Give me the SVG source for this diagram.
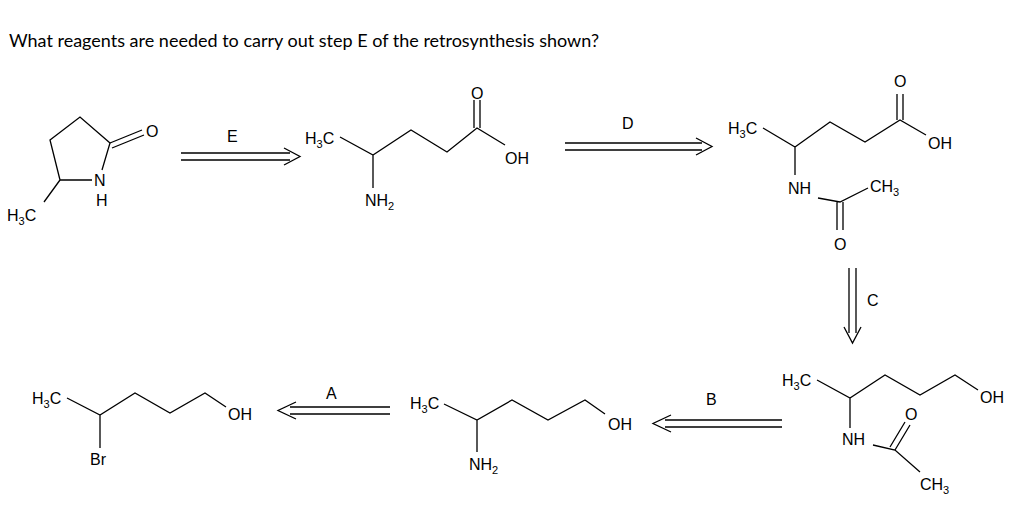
<svg xmlns="http://www.w3.org/2000/svg" width="1024" height="518" viewBox="0 0 1024 518">
<style>
.b{stroke:#000;stroke-width:1.3;fill:none}
.t{font-family:"Liberation Sans",Arial,sans-serif;font-size:16px;fill:#000}
.s{font-size:11px}
.ti{font-family:Lato,"Liberation Sans",sans-serif;font-size:18px;fill:#000}
</style>
<rect width="1024" height="518" fill="#fff"/>
<text class="ti" x="9" y="47">What reagents are needed to carry out step E of the retrosynthesis shown?</text>
<g id="lactam">
<path class="b" d="M102,170 L110,143 L80,117 L50,140 L60,180 L92,180 M60,180 L44,202"/>
<path class="b" d="M110,143 L142,130 M112,148 L144,135"/>
<text class="t" x="146" y="137">O</text>
<text class="t" x="94" y="186">N</text>
<text class="t" x="96" y="206">H</text>
<text class="t" x="7" y="221">H<tspan class="s" dy="4">3</tspan><tspan dy="-4">C</tspan></text>
</g>
<g id="aminoacid">
<text class="t" x="305" y="144">H<tspan class="s" dy="4">3</tspan><tspan dy="-4">C</tspan></text>
<path class="b" d="M340,137 L373,155 L411,130 L447,152 L477,128 L505,145 M373,155 L373,188 M474,128 L474,100 M480,128 L480,100"/>
<text class="t" x="471" y="99">O</text>
<text class="t" x="505" y="164">OH</text>
<text class="t" x="365" y="206">NH<tspan class="s" dy="4">2</tspan></text>
</g>
<g id="acetamido_acid">
<text class="t" x="728" y="134">H<tspan class="s" dy="4">3</tspan><tspan dy="-4">C</tspan></text>
<path class="b" d="M763,128 L795,147 L830,122 L865,142 L900,120 L926,135 M795,147 L795,175 M897,120 L897,94 M903,120 L903,94 M818,198 L840,202 L868,188 M837,202 L837,230 M843,202 L843,230"/>
<text class="t" x="894" y="87">O</text>
<text class="t" x="928" y="149">OH</text>
<text class="t" x="788" y="194">NH</text>
<text class="t" x="870" y="192">CH<tspan class="s" dy="4">3</tspan></text>
<text class="t" x="834" y="250">O</text>
</g>
<g id="bromoalcohol">
<text class="t" x="32" y="404">H<tspan class="s" dy="4">3</tspan><tspan dy="-4">C</tspan></text>
<path class="b" d="M67,398 L100,415 L135,393 L170,413 L205,393 L226,407 M100,415 L100,448"/>
<text class="t" x="228" y="420">OH</text>
<text class="t" x="90" y="465">Br</text>
</g>
<g id="aminoalcohol">
<text class="t" x="410" y="409">H<tspan class="s" dy="4">3</tspan><tspan dy="-4">C</tspan></text>
<path class="b" d="M444,404 L477,420 L512,400 L548,420 L585,400 L605,414 M477,420 L477,452"/>
<text class="t" x="608" y="430">OH</text>
<text class="t" x="469" y="470">NH<tspan class="s" dy="4">2</tspan></text>
</g>
<g id="acetamido_alcohol">
<text class="t" x="782" y="386">H<tspan class="s" dy="4">3</tspan><tspan dy="-4">C</tspan></text>
<path class="b" d="M817,380 L850,398 L885,375 L920,395 L955,375 L978,390 M850,398 L850,428 M873,445 L895,450 L920,472 M895,450 L910,425 M890,447 L905,422"/>
<text class="t" x="980" y="403">OH</text>
<text class="t" x="842" y="445">NH</text>
<text class="t" x="905" y="420">O</text>
<text class="t" x="920" y="490">CH<tspan class="s" dy="4">3</tspan></text>
</g>
<g id="connectors">
<path class="b" d="M181,153 L290,153 M181,160 L290,160 M284,148 L300,156.5 L284,165"/>
<text class="t" x="227" y="142">E</text>
<path class="b" d="M565,143 L702,143 M565,150 L702,150 M696,138 L712,146.5 L696,155"/>
<text class="t" x="622" y="129">D</text>
<path class="b" d="M849,268 L849,333 M856,268 L856,333 M844,327 L852.5,343 L861,327"/>
<text class="t" x="867" y="306">C</text>
<path class="b" d="M290,407 L390,407 M290,414 L390,414 M296,402 L278,410.5 L296,419"/>
<text class="t" x="326" y="399">A</text>
<path class="b" d="M665,420 L782,420 M665,427 L782,427 M671,415 L653,423.5 L671,432"/>
<text class="t" x="706" y="405">B</text>
</g>
</svg>
